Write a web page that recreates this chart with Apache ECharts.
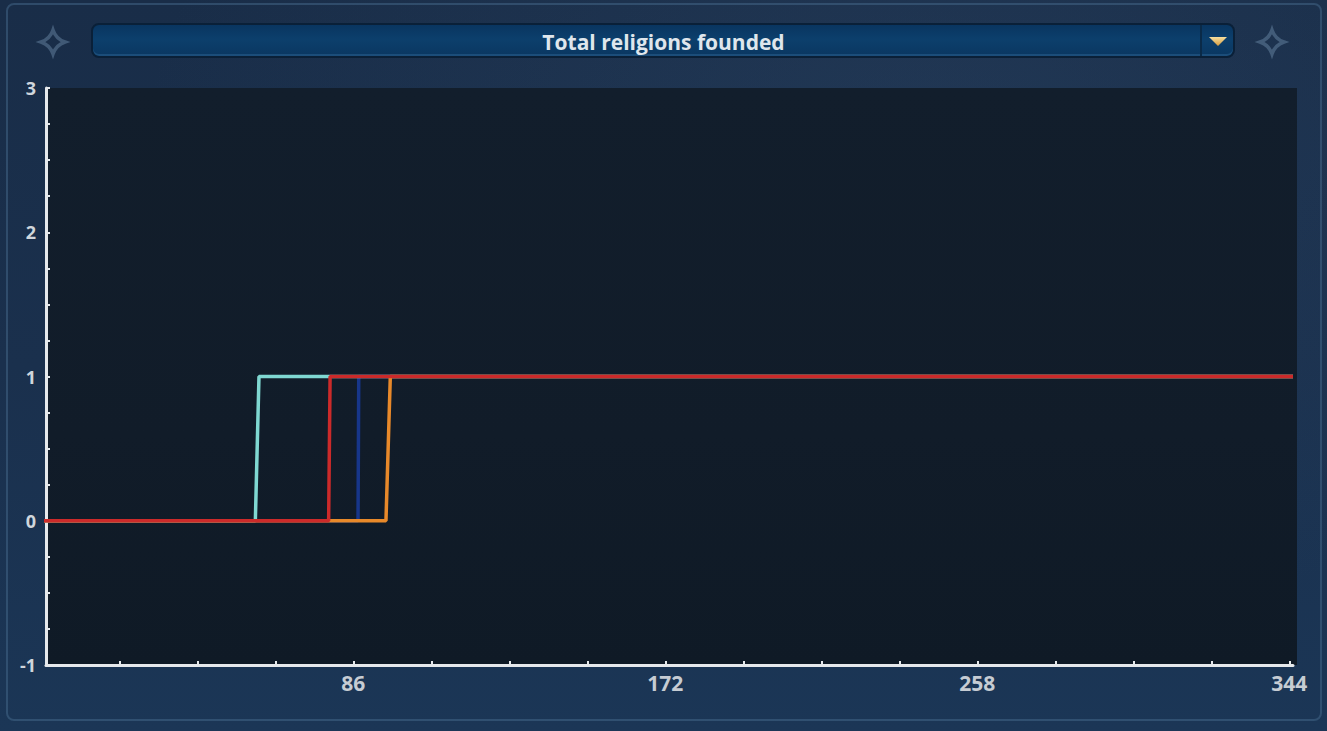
<!DOCTYPE html>
<html>
<head>
<meta charset="utf-8">
<script src="https://cdn.jsdelivr.net/npm/echarts@6/dist/echarts.min.js"></script>
<style>
  html, body { margin:0; padding:0; width:1327px; height:731px; overflow:hidden; }
  body {
    background:
      radial-gradient(ellipse at 70% 20%, rgba(60,90,125,0.22), rgba(0,0,0,0) 60%),
      linear-gradient(180deg, #192d48 0%, #1a304d 50%, #1b3656 100%);
    font-family: "Open Sans", sans-serif;
  }
  #frame { position:absolute; left:6px; top:3px; right:5px; bottom:10px;
    border:2px solid rgba(70,105,140,0.5); border-radius:8px; }
  #plotbg { position:absolute; left:46px; top:88px; width:1251px; height:577px;
    background: linear-gradient(180deg, #121e2c 0%, #111c29 60%, #0f1a26 100%); }
  #titlebar { position:absolute; left:91px; top:23px; width:1144px; height:35px;
    box-sizing:border-box; border-radius:8px;
    background: linear-gradient(180deg, #093560 0%, #0c3f6c 45%, #0a3761 100%);
    border:2px solid #0a2038; box-shadow: inset 0 -2px 0 rgba(60,120,170,0.35); }
  #sep { position:absolute; left:1107px; top:0; width:2px; height:100%; background:#0a2a48; }
  #orn { position:absolute; left:0; top:0; }
  #chart { position:absolute; left:0; top:0; width:1327px; height:731px; }
</style>
</head>
<body>
<div id="frame"></div>
<div id="plotbg"></div>
<div id="titlebar"><div id="sep"></div></div>
<svg id="orn" width="1327" height="100">
  <g fill="none" stroke="rgba(120,150,180,0.42)" stroke-width="3.5">
    <path d="M53 30 Q56 39 65 42 Q56 45 53 54 Q50 45 41 42 Q50 39 53 30 Z"/>
    <path d="M1272 30 Q1275 39 1284 42 Q1275 45 1272 54 Q1269 45 1260 42 Q1269 39 1272 30 Z"/>
  </g>
  <defs>
    <linearGradient id="gold" x1="0" y1="0" x2="0" y2="1">
      <stop offset="0" stop-color="#f6dfa0"/>
      <stop offset="1" stop-color="#d49a3c"/>
    </linearGradient>
  </defs>
  <path d="M1209 37 L1227 37 L1218 46 Z" fill="url(#gold)"/>
</svg>
<div id="chart"></div>
<script>
// ---- data ----
const titleText = 'Total religions founded';
const xTickValues = [21.5, 43, 64.5, 86, 107.5, 129, 150.5, 172, 193.5, 215, 236.5, 258, 279.5, 301, 322.5, 344];
const xTickLabels = [86, 172, 258, 344];
const yTickLabels = [-1, 0, 1, 2, 3];

const blueTurns   = [0, 87.3, 87.5, 345];
const blueValues  = [0, 0, 1, 1];
const cyanTurns   = [0, 59, 60, 345];
const cyanValues  = [0, 0, 1, 1];
const orangeTurns = [0, 95, 96.2, 345];
const orangeValues= [0, 0, 1, 1];
const redTurns    = [0, 79.2, 79.6, 345];
const redValues   = [0, 0, 1, 1];

function pairs(xs, ys) { return xs.map((x, i) => [x, ys[i]]); }

const chart = echarts.init(document.getElementById('chart'), null, { renderer: 'svg' });

const axisColor = '#e6e9ec';

function lineSeries(name, xs, ys, color) {
  return {
    name, type: 'line', data: pairs(xs, ys), showSymbol: false, symbol: 'none',
    lineStyle: { color, width: 3.5 }, itemStyle: { color }, animation: false
  };
}

chart.setOption({
  backgroundColor: 'transparent',
  animation: false,
  title: {
    text: titleText, left: 'center', top: 26,
    textStyle: { color: '#dfe6ec', fontSize: 21, fontWeight: 'bold', fontFamily: 'Open Sans' }
  },
  grid: { left: 46, right: 34, top: 88, bottom: 66, containLabel: false },
  xAxis: {
    type: 'value', min: 1.3, max: 345,
    axisLine: { show: true, onZero: false, lineStyle: { color: axisColor, width: 3 } },
    axisTick: { show: true, inside: true, length: 4, customValues: xTickValues,
      lineStyle: { color: axisColor, width: 2 } },
    splitLine: { show: false },
    axisLabel: {
      customValues: xTickLabels,
      color: '#c6ccd3', fontSize: 21, fontWeight: 'bold', fontFamily: 'Open Sans', margin: 7
    }
  },
  yAxis: {
    type: 'value', min: -1, max: 3, interval: 0.25,
    axisLine: { show: true, lineStyle: { color: axisColor, width: 3 } },
    axisTick: { show: true, inside: true, length: 4, lineStyle: { color: axisColor, width: 2 } },
    splitLine: { show: false },
    axisLabel: {
      color: '#d0d6dc', fontSize: 18, fontWeight: 'bold', fontFamily: 'Open Sans', margin: 10,
      formatter: v => yTickLabels.includes(v) ? String(v) : ''
    }
  },
  series: [
    lineSeries('Blue', blueTurns, blueValues, '#17368a'),
    lineSeries('Cyan', cyanTurns, cyanValues, '#7fd8d2'),
    lineSeries('Orange', orangeTurns, orangeValues, '#e8892a'),
    lineSeries('Red', redTurns, redValues, '#cc2a2a')
  ]
});
</script>
</body>
</html>
